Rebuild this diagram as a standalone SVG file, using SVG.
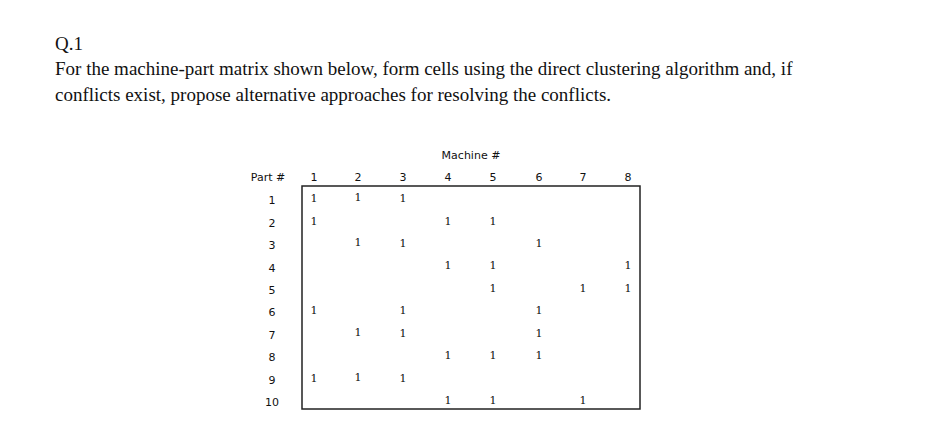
<svg xmlns="http://www.w3.org/2000/svg" width="937" height="428" viewBox="0 0 937 428">
<style>
.q{font-family:"Liberation Serif",serif;font-size:19px;fill:#111}
.l{font-family:"DejaVu Sans",sans-serif;font-size:11px;fill:#111;text-anchor:middle}
.v{font-family:"DejaVu Serif",serif;font-size:11px;fill:#111;text-anchor:middle}
</style>
<rect width="937" height="428" fill="#fff"/>
<g id="question">
<text class="q" x="55" y="50">Q.1</text>
<text class="q" x="55" y="75">For the machine-part matrix shown below, form cells using the direct clustering algorithm and, if</text>
<text class="q" x="55" y="101">conflicts exist, propose alternative approaches for resolving the conflicts.</text>
</g>
<g id="matrix">
<rect x="302" y="186" width="338" height="223" fill="none" stroke="#222" stroke-width="1.5"/>
<text class="l" x="471" y="159">Machine #</text>
<text class="l" x="268" y="181">Part #</text>
<g class="l">
<text x="314" y="181">1</text><text x="358" y="181">2</text><text x="403" y="181">3</text><text x="448" y="181">4</text><text x="493" y="181">5</text><text x="539" y="181">6</text><text x="583" y="181">7</text><text x="628" y="181">8</text>
<text x="272" y="204">1</text><text x="272" y="227">2</text><text x="272" y="249">3</text><text x="272" y="272">4</text><text x="272" y="294">5</text><text x="272" y="316">6</text><text x="272" y="339">7</text><text x="272" y="361">8</text><text x="272" y="384">9</text><text x="272" y="406">10</text>
</g>
<g class="v">
<text x="314" y="202">1</text><text x="358" y="201">1</text><text x="403" y="202">1</text>
<text x="314" y="225">1</text><text x="448" y="225">1</text><text x="493" y="225">1</text>
<text x="358" y="246">1</text><text x="403" y="247">1</text><text x="539" y="247">1</text>
<text x="448" y="269">1</text><text x="493" y="269">1</text><text x="628" y="269">1</text>
<text x="493" y="292">1</text><text x="583" y="292">1</text><text x="628" y="292">1</text>
<text x="314" y="314">1</text><text x="403" y="314">1</text><text x="539" y="314">1</text>
<text x="358" y="336">1</text><text x="403" y="337">1</text><text x="539" y="337">1</text>
<text x="448" y="359">1</text><text x="493" y="359">1</text><text x="539" y="359">1</text>
<text x="314" y="382">1</text><text x="358" y="381">1</text><text x="403" y="382">1</text>
<text x="448" y="404">1</text><text x="493" y="404">1</text><text x="583" y="404">1</text>
</g>
</g>
</svg>
